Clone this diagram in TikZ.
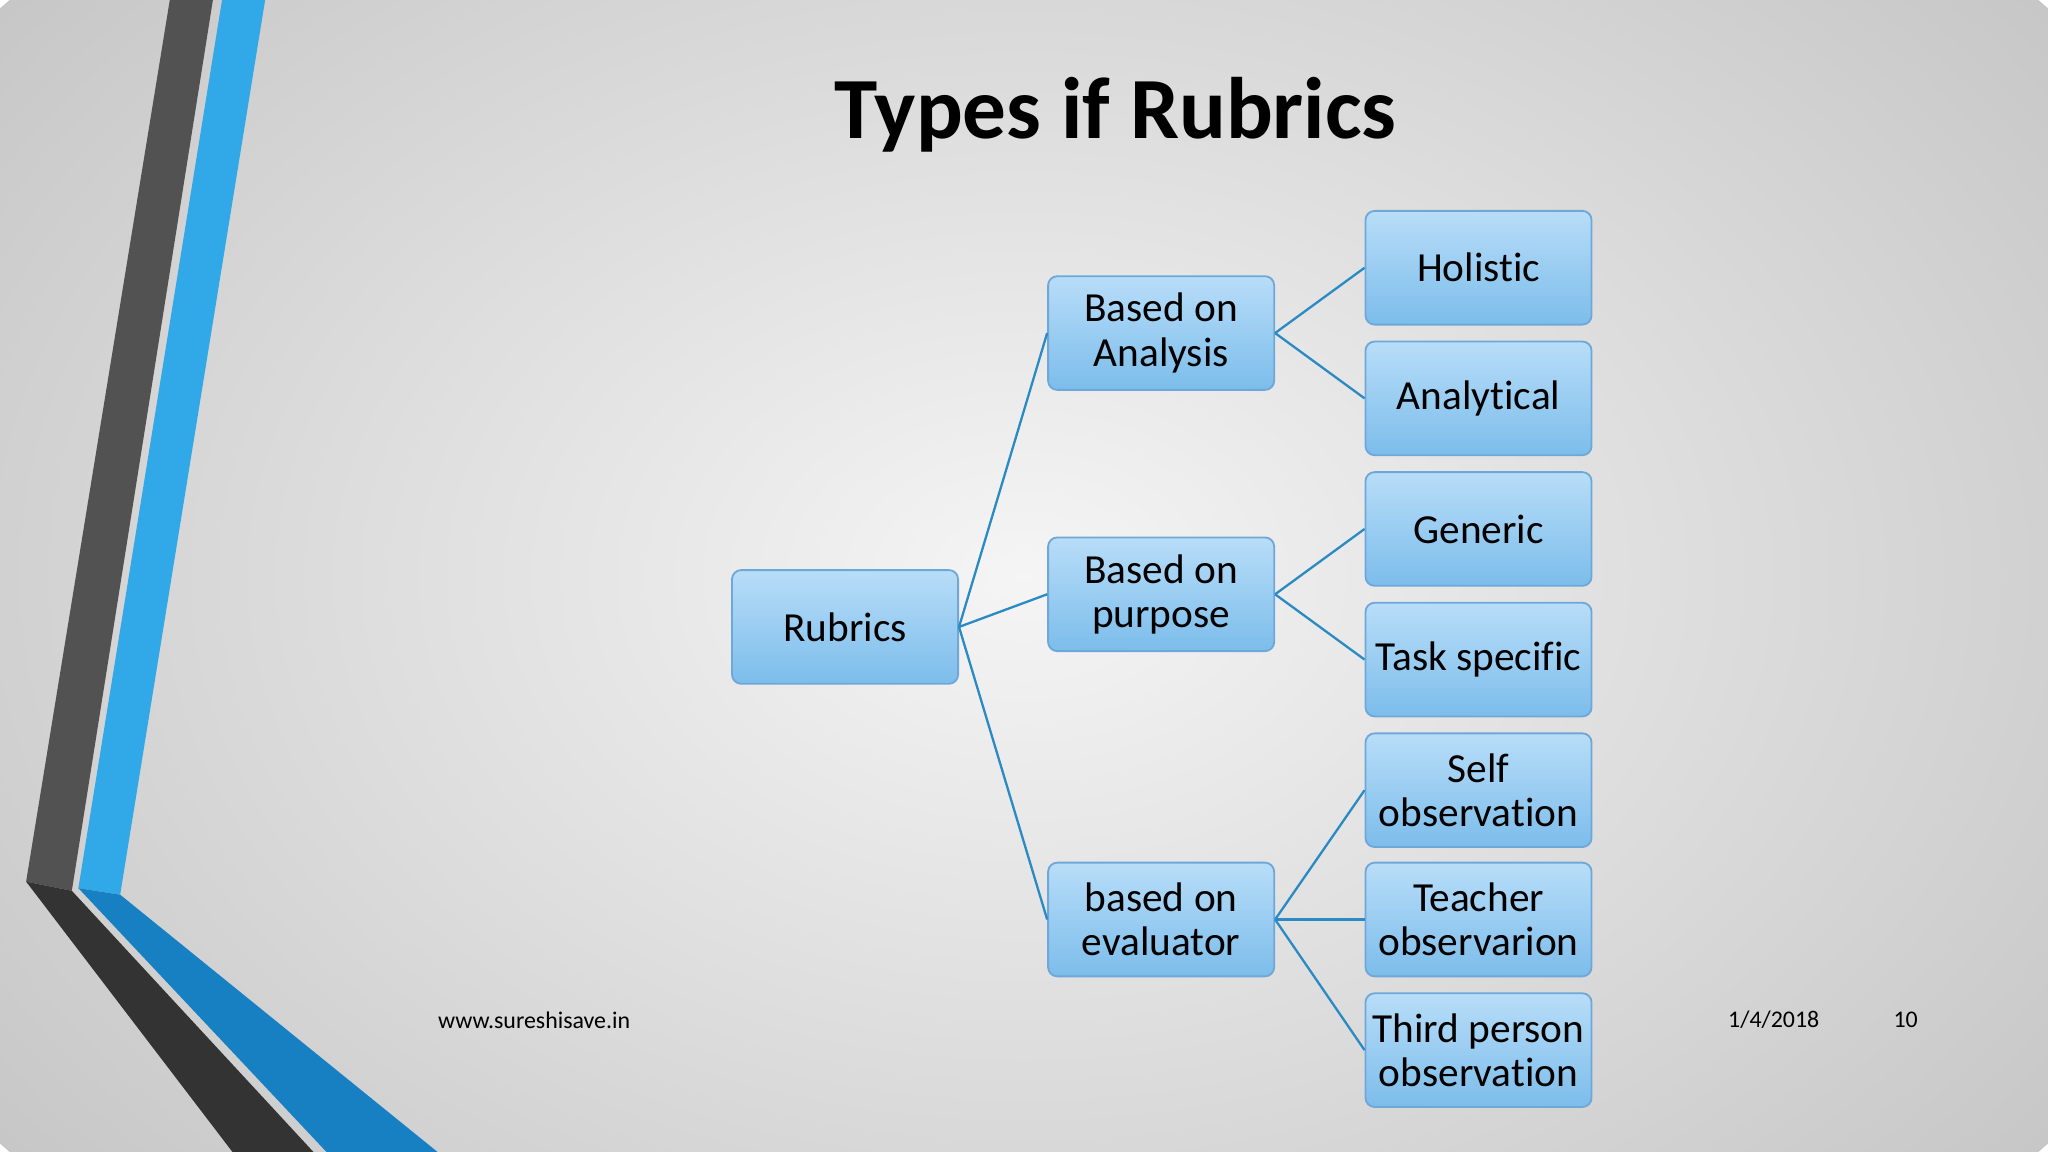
\documentclass[tikz,border=0pt]{standalone}
\usepackage{fontspec}
\setmainfont[Ligatures=NoCommon]{Carlito}
\definecolor{btop}{HTML}{B8DDF8}
\definecolor{bbot}{HTML}{7CBDEB}
\definecolor{bline}{HTML}{6FA8D8}
\definecolor{lnk}{HTML}{2A8AC4}
\definecolor{stripe}{HTML}{31A9E8}
\definecolor{stripeb}{HTML}{1680C2}
\begin{document}
\begin{tikzpicture}[x=0.01cm,y=-0.01cm,
  box/.style={draw=bline, line width=0.4pt, rounded corners=2pt,
    top color=btop, bottom color=bbot, minimum width=1.73cm, minimum height=0.87cm,
    align=center, font=\fontsize{9}{9.7}\selectfont, inner sep=1pt},
  link/.style={draw=lnk, line width=0.5pt}]
\useasboundingbox (0,0) rectangle (1568,882);
\path[clip] (0,0) rectangle (1568,882);
\shade[inner color=white!96!black, outer color=black!22] (784,441) ellipse (1000 and 700);
% left decoration
\fill[black!68] (130,0) -- (163,0) -- (55,682) -- (20,675) -- cycle;
\fill[stripe] (170,0) -- (203,0) -- (92,685) -- (60,680) -- cycle;
\fill[stripeb] (60,680) -- (92,685) -- (335,882) -- (250,882) -- cycle;
\fill[black!80] (20,675) -- (55,682) -- (240,882) -- (178,882) -- cycle;
\node (title) at (854,88) {\fontsize{19}{21}\selectfont\bfseries Types if Rubrics};
\node[box] (r) at (647,480) {Rubrics};
\node[box] (a) at (889,255) {Based on\\Analysis};
\node[box] (p) at (889,455) {Based on\\purpose};
\node[box] (e) at (889,704) {based on\\evaluator};
\node[box] (h) at (1132,205) {Holistic};
\node[box] (an) at (1132,305) {Analytical};
\node[box] (g) at (1132,405) {Generic};
\node[box] (t) at (1132,505) {Task specific};
\node[box] (s) at (1132,605) {Self\\observation};
\node[box] (te) at (1132,704) {Teacher\\observarion};
\node[box] (th) at (1132,804) {Third person\\observation};
\foreach \n in {a,p,e} \draw[link] (r.east) -- (\n.west);
\foreach \n in {h,an} \draw[link] (a.east) -- (\n.west);
\foreach \n in {g,t} \draw[link] (p.east) -- (\n.west);
\foreach \n in {s,te,th} \draw[link] (e.east) -- (\n.west);
\node[font=\fontsize{5.2}{6}\selectfont] (w) at (409,781) {www.sureshisave.in};
\node[font=\fontsize{5.2}{6}\selectfont] (d) at (1358,781) {1/4/2018};
\node[font=\fontsize{5.2}{6}\selectfont] (n) at (1459,781) {10};
\end{tikzpicture}
\end{document}
